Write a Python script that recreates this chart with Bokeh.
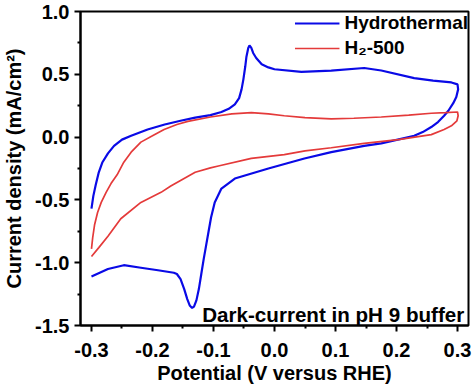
from bokeh.plotting import figure
from bokeh.models import FixedTicker, PrintfTickFormatter, Label, Legend, LegendItem, Range1d
from bokeh.embed import file_html
from bokeh.resources import INLINE

# ---- data ----
hydro_x = [-0.300, -0.297, -0.293, -0.288, -0.282, -0.273, -0.263, -0.250, -0.235, -0.208,
           -0.180, -0.154, -0.130, -0.105, -0.087, -0.075, -0.065, -0.058, -0.054, -0.051,
           -0.048, -0.046, -0.043, -0.041, -0.038, -0.035, -0.030, -0.021, -0.010, 0.000,
           0.044, 0.093, 0.147, 0.175, 0.229, 0.260, 0.290, 0.300, 0.301, 0.298,
           0.293, 0.285, 0.278, 0.268, 0.257, 0.243, 0.229, 0.175, 0.147, 0.093,
           0.049, -0.010, -0.065, -0.087, -0.098, -0.104, -0.108, -0.112, -0.116, -0.120,
           -0.124, -0.128, -0.132, -0.135, -0.139, -0.143, -0.148, -0.154, -0.160, -0.165,
           -0.191, -0.219, -0.247, -0.273, -0.300]
hydro_y = [-0.57, -0.47, -0.38, -0.28, -0.20, -0.13, -0.07, -0.02, 0.01, 0.06,
           0.10, 0.13, 0.155, 0.175, 0.20, 0.225, 0.26, 0.31, 0.38, 0.46,
           0.56, 0.64, 0.71, 0.73, 0.71, 0.67, 0.63, 0.58, 0.555, 0.54,
           0.52, 0.53, 0.55, 0.53, 0.47, 0.45, 0.435, 0.42, 0.38, 0.32,
           0.27, 0.21, 0.17, 0.12, 0.08, 0.04, 0.01, -0.05, -0.07, -0.12,
           -0.17, -0.25, -0.33, -0.41, -0.52, -0.64, -0.75, -0.86, -0.97, -1.09,
           -1.21, -1.30, -1.35, -1.36, -1.34, -1.29, -1.21, -1.13, -1.09, -1.08,
           -1.06, -1.04, -1.02, -1.05, -1.11]

h2_x = [-0.300, -0.298, -0.295, -0.290, -0.284, -0.276, -0.268, -0.258, -0.247, -0.235,
        -0.219, -0.200, -0.181, -0.160, -0.142, -0.105, -0.070, -0.038, -0.010, 0.016,
        0.050, 0.093, 0.130, 0.175, 0.220, 0.257, 0.280, 0.300, 0.301, 0.299,
        0.290, 0.278, 0.257, 0.230, 0.203, 0.147, 0.093, 0.050, 0.016, -0.038,
        -0.092, -0.105, -0.130, -0.154, -0.170, -0.186, -0.219, -0.252, -0.273, -0.288,
        -0.300]
h2_y = [-0.89, -0.80, -0.70, -0.60, -0.52, -0.44, -0.37, -0.30, -0.20, -0.12,
        -0.04, 0.01, 0.06, 0.10, 0.125, 0.16, 0.185, 0.195, 0.185, 0.17,
        0.155, 0.145, 0.15, 0.16, 0.175, 0.19, 0.195, 0.20, 0.17, 0.13,
        0.09, 0.06, 0.02, 0.00, -0.02, -0.05, -0.085, -0.11, -0.14, -0.17,
        -0.23, -0.245, -0.28, -0.345, -0.39, -0.44, -0.52, -0.65, -0.79, -0.88,
        -0.95]

x_ticks = [-0.3, -0.2, -0.1, 0.0, 0.1, 0.2, 0.3]
x_minor = [-0.25, -0.15, -0.05, 0.05, 0.15, 0.25]
y_ticks = [1.0, 0.5, 0.0, -0.5, -1.0, -1.5]
y_minor = [0.75, 0.25, -0.25, -0.75, -1.25]

series_names = ["Hydrothermal", "H\u2082-500"]
series_colors = ["#0a0ae6", "#e43a3a"]

FONT = "Liberation Sans"

p = figure(width=472, height=386, output_backend="svg", toolbar_location=None,
           x_range=Range1d(-0.318, 0.318), y_range=Range1d(-1.5, 1.0),
           min_border_left=79, min_border_right=4, min_border_top=11, min_border_bottom=60)

r1 = p.line(hydro_x, hydro_y, line_color=series_colors[0], line_width=2.2)
r2 = p.line(h2_x, h2_y, line_color=series_colors[1], line_width=1.7)

p.xgrid.visible = False
p.ygrid.visible = False
p.outline_line_color = "black"
p.outline_line_width = 2
p.outline_line_alpha = 1.0

p.xaxis.ticker = FixedTicker(ticks=x_ticks, minor_ticks=x_minor)
p.yaxis.ticker = FixedTicker(ticks=y_ticks, minor_ticks=y_minor)
p.xaxis.formatter = PrintfTickFormatter(format="%.1f")
p.yaxis.formatter = PrintfTickFormatter(format="%.1f")

for ax in (p.xaxis[0], p.yaxis[0]):
    ax.axis_line_width = 2
    ax.axis_line_color = "black"
    ax.major_tick_line_width = 2
    ax.minor_tick_line_width = 2
    ax.major_tick_out = 6
    ax.major_tick_in = 0
    ax.minor_tick_out = 3
    ax.minor_tick_in = 0
    ax.major_label_text_font = FONT
    ax.major_label_text_font_style = "bold"
    ax.major_label_text_font_size = "20px"
    ax.major_label_text_color = "black"
    ax.axis_label_text_font = FONT
    ax.axis_label_text_font_style = "bold"
    ax.axis_label_text_font_size = "20px"
    ax.axis_label_text_color = "black"

p.xaxis.axis_label = "Potential (V versus RHE)"
p.yaxis.axis_label = "Current density (mA/cm\u00b2)"
p.xaxis.major_label_standoff = 11
p.xaxis.axis_label_standoff = 2
p.yaxis.major_label_standoff = 5
p.yaxis.axis_label_standoff = 7

legend = Legend(items=[LegendItem(label=series_names[0], renderers=[r1]),
                       LegendItem(label=series_names[1], renderers=[r2])],
                location="top_right")
legend.background_fill_alpha = 0
legend.border_line_alpha = 0
legend.padding = 0
legend.margin = 0
legend.spacing = 1
legend.glyph_width = 45
legend.glyph_height = 24
legend.label_height = 24
legend.label_standoff = 5
legend.label_text_font = FONT
legend.label_text_font_style = "bold"
legend.label_text_font_size = "19px"
legend.label_text_color = "black"
p.add_layout(legend)

note = Label(x=0.311, y=-1.41, text="Dark-current in pH 9 buffer", text_align="right",
             text_baseline="alphabetic", text_font=FONT, text_font_style="bold",
             text_font_size="20.6px", text_color="black")
p.add_layout(note)

open("out.html", "w").write(file_html(p, INLINE))
